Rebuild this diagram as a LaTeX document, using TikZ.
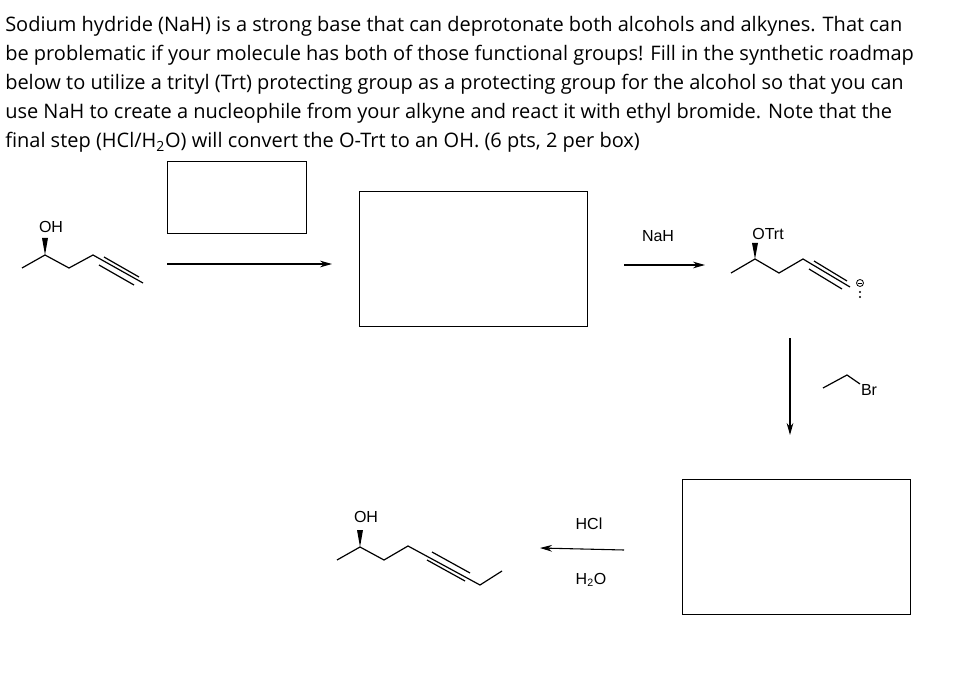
\documentclass[tikz,border=0pt]{standalone}
\usepackage{fontspec}
\setmainfont{Open Sans}
\newfontfamily\labfont{Liberation Sans}
\usetikzlibrary{arrows.meta}
\begin{document}
\begin{tikzpicture}[x=0.75pt,y=-0.75pt,
  bond/.style={line width=0.9pt},
  box/.style={draw,line width=0.8pt},
  rxn/.style={line width=0.8pt,-{Stealth[length=9pt,width=5pt]}},
  para/.style={anchor=base west,inner sep=0pt,font=\fontsize{15}{17}\selectfont},
  lab/.style={inner sep=0pt,font=\labfont\fontsize{12}{14}\selectfont}]
\useasboundingbox (0,0) rectangle (957,688);
\node[para] (l1) at (5,32) {Sodium hydride (NaH) is a strong base that can deprotonate both alcohols and alkynes. That can};
\node[para] (l2) at (5,61) {be problematic if your molecule has both of those functional groups! Fill in the synthetic roadmap};
\node[para] (l3) at (5,90) {below to utilize a trityl (Trt) protecting group as a protecting group for the alcohol so that you can};
\node[para] (l4) at (5,119) {use NaH to create a nucleophile from your alkyne and react it with ethyl bromide. Note that the};
\node[para] (l5) at (5,148) {final step (HCl/H\textsubscript{2}O) will convert the O-Trt to an OH. (6 pts, 2 per box)};
% boxes
\node[box,minimum width=104.25pt,minimum height=54pt,anchor=north west] (b1) at (167,161) {};
\node[box,minimum width=171pt,minimum height=101.25pt,anchor=north west] (b2) at (359,191) {};
\node[box,minimum width=171pt,minimum height=101.25pt,anchor=north west] (b3) at (682,479) {};
% arrows
\coordinate (a1s) at (167,264); \coordinate (a1e) at (332,264);
\draw[rxn] (a1s) -- (a1e);
\coordinate (a2s) at (624,265); \coordinate (a2e) at (705,265);
\draw[rxn] (a2s) -- (a2e);
\coordinate (a3s) at (790,338); \coordinate (a3e) at (790,435);
\draw[rxn] (a3s) -- (a3e);
\coordinate (a4s) at (624,550); \coordinate (a4e) at (540,548);
\draw[rxn] (a4s) -- (a4e);
\node[lab] (nah) at (658,236) {NaH};
\node[lab] (hcl) at (589,524) {HCl};
\node[lab] (h2o) at (591,580) {H\textsubscript{2}O};
% molecule 1
\node[lab] (oh1) at (51,227) {OH};
\draw[bond] (22,268) -- (45,255) -- (69,268) -- (93,255) -- (143,283);
\draw[bond] (104,257) -- (139,277);
\draw[bond] (99,265) -- (134,285);
\fill (45,255) -- (42,238) -- (48,238) -- cycle;
% molecule 2
\node[lab] (otrt) at (768,234) {OTrt};
\draw[bond] (731,273) -- (755,259) -- (779,273) -- (803,259) -- (850,287);
\draw[bond] (814,261) -- (847,281);
\draw[bond] (809,269) -- (842,289);
\fill (755,259) -- (752,243) -- (758,243) -- cycle;
\draw[line width=0.6pt] (860,283) circle (3.5);
\draw[line width=0.6pt] (857.8,283) -- (862.2,283);
\fill (860,292) circle (1.1); \fill (860,297) circle (1.1);
% ethyl bromide
\draw[bond] (823,388) -- (847,375) -- (860,384);
\node[lab] (br) at (869,390) {Br};
% molecule 3
\node[lab] (oh3) at (366,517) {OH};
\draw[bond] (337,560) -- (360,547) -- (384,560) -- (408,546) -- (480,585) -- (502,571);
\draw[bond] (432,552) -- (470,573);
\draw[bond] (427,560) -- (465,581);
\fill (360,547) -- (357,530) -- (363,530) -- cycle;
\end{tikzpicture}
\end{document}
